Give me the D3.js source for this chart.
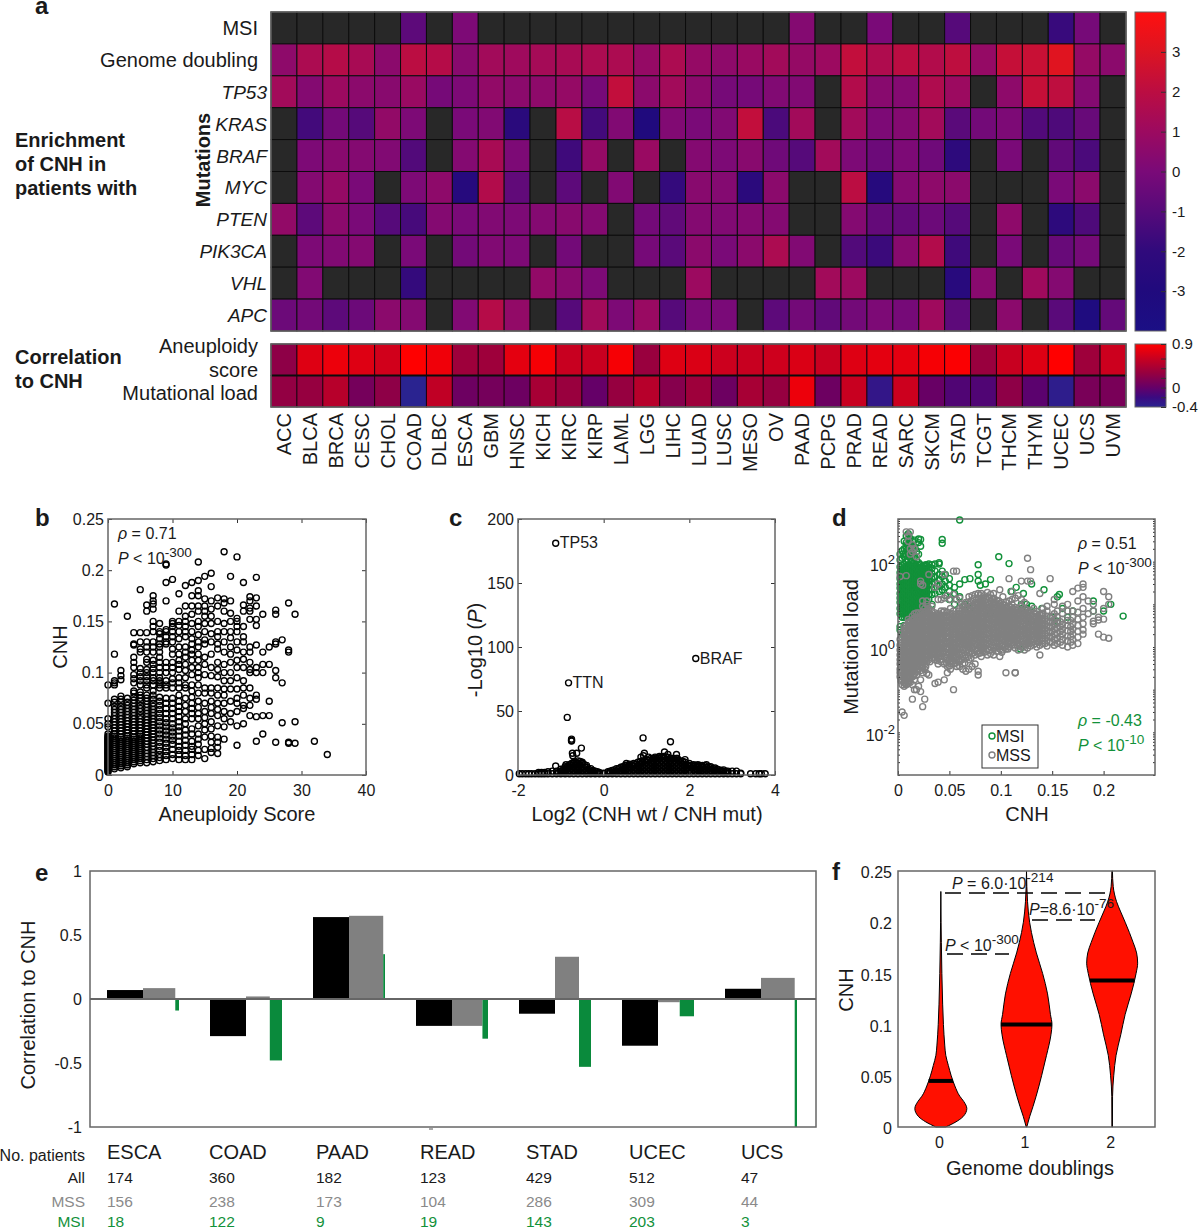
<!DOCTYPE html>
<html>
<head>
<meta charset="utf-8">
<script src="https://cdn.jsdelivr.net/npm/d3@7"></script>
<style>
  body { margin: 0; background: #fff; }
  text { font-family: "Liberation Sans", Arial, sans-serif; fill: #1a1a1a; }
</style>
</head>
<body>
<div id="chart"></div>
<script>
// ---- panel a
const cancerTypes = ["ACC","BLCA","BRCA","CESC","CHOL","COAD","DLBC","ESCA","GBM","HNSC","KICH","KIRC","KIRP","LAML","LGG","LIHC","LUAD","LUSC","MESO","OV","PAAD","PCPG","PRAD","READ","SARC","SKCM","STAD","TCGT","THCM","THYM","UCEC","UCS","UVM"];
const enrichRows = ["MSI","Genome doubling","TP53","KRAS","BRAF","MYC","PTEN","PIK3CA","VHL","APC"];
const _ = null;
const msiEnrich      = [_,_,_,_,_,-.8,_,.1,_,_,_,_,_,_,_,_,_,_,_,_,.3,_,_,0,_,_,-1,_,_,_,-1.8,-.1,_];
const doublingEnrich = [.6,1.5,1.8,1.4,.5,2,1.8,.4,1.2,1.1,1.3,1.4,1.5,1.5,.8,1.5,.8,.6,.9,1.2,.8,1,2.2,1.6,2,1.7,2.1,.8,2.3,2.4,3.1,.8,.5];
const tp53Enrich     = [1.2,.3,1,.5,.4,.9,-.1,.1,.7,.5,.6,.8,-.1,2.2,.5,1.2,.5,-.1,-.1,.2,.2,_,1.7,.4,.3,1.6,1,_,.6,2.3,2.1,.3,_];
const krasEnrich     = [_,-1.5,-.2,-1,.7,.1,_,0,.2,-2.4,_,1.9,-1.5,.2,-3,.2,0,.2,2.2,-1.3,1.2,_,1.2,.1,.3,1.2,-.9,-.2,.1,-1.1,-1.2,-.5,_];
const brafEnrich     = [_,.1,.4,.3,.2,-1.1,_,.3,1.4,.1,_,-1.6,.8,_,.9,_,.3,.1,.4,-.3,-1,1.2,.1,-.4,.1,-.3,-2.2,_,0,_,-.7,-1.3,_];
const mycEnrich      = [_,.3,.8,0,_,.1,.6,-2.6,1.7,-.7,_,-.8,_,.2,_,-1.9,.4,.3,-2.3,.5,_,_,2,-2.6,.3,.6,.5,_,_,_,0,.5,_];
const ptenEnrich     = [.7,-.8,.5,0,-1,-1.4,.3,0,.2,.1,.3,.4,.3,_,-.2,-.7,.3,.2,.3,.3,_,_,.3,-.6,-.6,-.4,-1,_,.6,_,-2.2,-1.2,_];
const pik3caEnrich   = [_,.1,.2,.3,_,0,_,-.2,.2,.1,_,-.2,_,_,-.1,-.9,.5,0,.5,1.5,.2,_,-1.1,-1.7,.4,1.7,-1.6,_,0,_,-.5,-.1,_];
const vhlEnrich      = [_,.2,_,_,_,-1.9,_,_,_,_,.7,.4,.1,_,_,_,1,_,_,_,_,1.2,1,_,_,_,-2.5,.4,_,1.1,.3,_,_];
const apcEnrich      = [-.4,-.2,-.8,-.4,.5,.3,_,.2,1.8,.7,_,-1,1.2,.1,.9,-1,0,0,_,-.8,-.2,-.7,-.2,.1,-.1,1.1,-.8,_,.5,_,-.9,-3.3,-.6];
const enrichMatrix = [msiEnrich,doublingEnrich,tp53Enrich,krasEnrich,brafEnrich,mycEnrich,ptenEnrich,pik3caEnrich,vhlEnrich,apcEnrich];
const enrichStops  = [-4,-3,-2,-1,0,1,2,3,4];
const enrichColors = ["#1b0f85","#200a7d","#300a7c","#560a7a","#7a0a78","#9c0a60","#bb0d42","#dc1422","#ff1010"];

const aneuploidyCorr = [.25,.72,.8,.72,.65,.9,.82,.35,.35,.75,.85,.6,.6,.85,.32,.72,.7,.62,.6,.63,.7,.6,.72,.75,.75,.85,.88,.32,.6,.72,.9,.35,.62];
const mutloadCorr    = [.28,.3,.5,.1,.25,-.4,.55,.05,.1,.05,.4,.32,0,.3,.5,.2,.35,.05,.4,.3,.8,.05,.6,-.3,.62,.02,-.1,-.1,.25,-.05,-.35,.12,.12];
const corrStops  = [-.4,-.2,0,.3,.6,.9];
const corrColors = ["#2a2390","#3b0a80","#650068","#960040","#c80020","#ff0000"];

// ---- panel b: CNH (x 1000) per aneuploidy score
const scoreValues = [0,1,2,3,4,5,6,7,8,9,10,11,12,13,14,15,16,17,18,19,20,21,22,23,24,25,26,27,28,29,32,34];
const scoreCnh = [
 [3,4,5,6,7,8,9,10,11,12,13,14,15,16,17,18,19,20,21,22,23,24,25,26,27,28,29,30,31,32,33,34,35,36,37,38,40,47,50,55,70,88],
 [6,8,10,12,14,16,18,20,22,24,26,28,30,32,34,36,38,40,43,46,49,52,55,58,61,64,67,71,74,88,90,92,118,167],
 [7,9,11,13,15,17,19,21,23,25,27,29,31,33,35,37,40,43,46,49,52,55,58,61,64,67,71,74,77,93,97,102],
 [8,10,12,14,16,18,20,22,24,26,28,30,32,34,36,38,41,44,47,50,53,56,59,62,65,68,71,75,155],
 [11,13,15,17,19,21,23,25,27,29,31,33,35,37,40,43,46,49,52,55,58,61,64,67,70,73,76,80,82,90,94,98,105,110,115,127,128,139],
 [12,14,16,18,20,22,24,26,28,30,32,34,36,38,40,43,46,49,52,55,58,62,65,68,72,75,78,81,88,92,96,100,104,120,123,130,139,181],
 [12,15,18,21,24,27,30,33,36,39,42,45,48,51,54,57,60,63,66,69,72,75,78,85,88,92,96,100,103,110,113,120,125,130,139,160,166],
 [13,16,19,22,25,28,31,34,37,40,43,46,49,52,55,58,61,64,67,70,74,78,82,88,92,95,100,104,108,112,120,125,130,140,145,150,162,167,170,175],
 [14,17,20,24,28,32,36,40,44,48,52,56,60,64,68,72,76,85,88,90,92,95,100,105,110,115,120,125,128,133,138,140,148],
 [15,19,23,27,31,35,39,43,47,51,55,60,65,70,75,85,88,92,100,105,110,128,130,135,140,142,170,188,205,206],
 [16,20,25,30,34,38,42,46,50,55,60,65,70,75,85,90,94,100,105,110,118,123,130,135,140,145,148,150,191],
 [15,20,24,28,33,38,43,47,52,57,62,67,72,78,85,90,95,103,108,112,118,125,133,140,146,150,160,177],
 [15,19,24,29,34,39,44,50,55,62,68,75,85,88,95,102,108,115,120,125,135,140,145,150,155,165,185],
 [15,20,25,28,33,40,45,55,60,65,70,76,82,88,98,105,112,118,122,128,133,140,148,157,165,175,188],
 [19,24,30,35,40,48,55,60,66,72,80,88,95,100,105,112,118,125,130,137,145,150,160,165,175,180,190,208],
 [16,25,37,44,50,56,62,70,80,85,98,108,115,128,132,140,148,155,160,165,172,194],
 [22,26,32,38,45,52,60,66,72,80,85,97,105,118,130,138,148,155,162,170,184,197],
 [21,27,32,37,48,58,64,70,78,85,96,103,110,123,128,135,140,150,165,173],
 [35,47,55,62,70,78,84,92,100,108,120,130,140,148,160,168,172,218],
 [52,60,72,84,92,100,110,118,125,134,140,150,158,170,194],
 [29,48,62,70,75,84,95,105,112,122,130,140,145,150,153,213],
 [50,65,68,78,85,92,105,113,120,130,135,145,160,166,188],
 [58,68,75,85,100,103,110,120,125,152,160,163,170,174],
 [33,57,74,78,100,105,127,146,152,165,173,193],
 [40,58,100,108,120,157],
 [58,72,108,125],
 [32,95,102,128,130,157,161],
 [51,90,132],
 [31,32,120,122,168],
 [31,52,157],
 [33],
 [20]
];

// ---- panel c: genes, log2 ratio against -log10 P
const foldChange = [-1.97,-1.9,-1.82,-1.75,-1.68,-1.6,-1.52,-1.45,-1.38,-1.3,-1.2,-1.1,-1,-.9,-.8,-.7,-.6,-.5,-.4,-.3,-.2,-.1,0,.1,.2,.3,.4,.5,.6,.7,.8,.9,1,1.1,1.2,1.3,1.4,1.5,1.6,1.7,1.8,1.9,2,2.1,2.2,2.3,2.4,2.5,2.6,2.7,2.8,2.9,3,3.1,3.2,3.43,3.55,3.63,3.68,3.77];
const foldP = [[1],[1],[1],[1],[1],[1],[1,2],[1,2],[1,2],[1,2.5],[1,3],[1,3],[1,3,4.5],[1,3,5,6.5],[1,3.5,6,8],[1,3.5,6,9,10],[1,3.5,6,9,11],[1,3.5,6,9,10],[1,3.5,6,7.5],[1,3,5],[1,3],[1,2],[1,1.5],[1,2.5],[1,3.5],[1,3,5],[1,3.5,6],[1,3.5,6,7.5],[1,3.5,6,8.5],[1,4,7,9],[1,4,7,10],[1,4,7,10,11],[1,4,7,10,12],[1,4,7,10,13],[1,4,7,10,14],[1,4,7,10,13,14.5],[1,4,7,10,13,14.5],[1,4,7,10,14],[1,4,7,10,13],[1,4,7,10,13],[1,4,7,11],[1,4,7,10],[1,4,7,9],[1,4,6.5,8],[1,4,6.5,8],[1,3.5,6,7.5],[1,4,6,8],[1,3.5,6.5],[1,3.5,5.5],[1,4],[1,2.5,4],[1,3],[1,3],[1,3],[1,1.5],[1],[1],[1],[1],[1]];
const foldChangeFill = [-1.05,-.95,-.85,-.75,-.65,-.55,-.45,-.35,-.25,-.15,.15,.25,.35,.45,.55,.65,.75,.85,.95,1.05,1.15,1.25,1.35,1.45,1.55,1.65,1.75,1.85,1.95,2.05,2.15,2.25,2.35,2.45,2.55,2.65,2.75,2.85];
const foldPFill = [[2],[2,4],[2,4.5,6.5],[2.5,5,7.5,9],[2.5,5,8,10],[2.5,5,8,10.5],[2.5,5,8],[2,4.5],[2,3.5],[1.5,2.5],[2,3],[2,4],[2.5,5],[2.5,5,6.5],[2.5,5,7.5],[2.5,5.5,8],[2.5,5.5,8.5],[2.5,5.5,8.5,10.5],[2.5,5.5,8.5,11],[2.5,5.5,8.5,11.5],[2.5,5.5,8.5,11.5,13],[2.5,5.5,8.5,11.5,13.5],[2.5,5.5,8.5,11.5,14],[2.5,5.5,8.5,11.5,14],[2.5,5.5,8.5,11.5,13],[2.5,5.5,8.5,11.5,13],[2.5,5.5,8.5,11.5],[2.5,5.5,8.5,10.5],[2.5,5.5,8],[2.5,5.5,7.5],[2.5,5,7.5],[2.5,5,7.5],[2.5,5,7.5],[2.5,5,6.5],[2.5,5],[2.5,4.5],[2.5,3.5],[2,3]];
const outlierFold = [-.85,-.75,-.75,-.75,-.52,-.73,-.63,-.72,-1.12,-.88,.92,.93,.87,.95,1.05,1.56,1.42,1.5,1.7,1.72,1.9,.53];
const outlierP    = [45,27,26.5,28,21,17,17,15,7,8,29,15,14,17,14,26,18,16,16,13,12,9];
const namedGenes  = ["TP53","TTN","BRAF"];
const namedFold   = [-1.12,-.82,2.15];
const namedP      = [181,72,91];

// ---- panel d: CNH (x 1000) columns with mutational load
const msiCnh = [2,4,6,8,10,12,14,16,18,20,22,24,26,28,30,33,36,40,43,46,50,55,60,65,70,78,80,85,90,98,100,108,110,115,119,120,122,125,130,140,142,150,155,157,160,165,170,190,200,207,219];
const msiLoad = [
 [2.5,3,6,8,11,14,18,24,30,40,55,75,110,150],[2,5,7,9,12,16,21,27,35,46,60,80,120,180],[2.7,3.2,5,6.5,8.5,11,14,18,23,30,38,50,65,85,130,200,300],
 [5,6.5,8,10,13,17,22,28,36,46,60,75,100,140,200,280,400],[5.5,7,9,12,15,19,24,31,40,50,65,85,110,160,230,340,450],[5,6.5,8.5,11,14,18,23,30,38,48,62,80,120,180,260,350],
 [5,6,8,10,13,17,21,27,35,45,58,75,105,150,220,300],[5,7,9,12,15,19,25,32,40,52,68,90,130,200,320],[5.5,7,9,11,14,18,23,29,37,48,60,78,110,170],
 [6,8,10,13,16,21,27,34,44,56,72,95,150,280,340],[5,6,8,11,14,18,23,29,38,50,65,85,230,330],[6,8,10,12,15,19,25,32,40,52,70],
 [8,11,14,18,23,29,38,48,62,80],[10,13,17,22,28,36,45,60,80],[13,17,22,28,35,45,58,75,88],[10,17,22,30,40,52,70,85],[18,25,33,44,60,88],[20,27,38,50,95,88],
 [22,30,45,60,330,270],[16,25,35,50],[13,20,28,40],[10,18,25],[15,30,950],[10,38],[8,40],[35,50,85],[28],[30],[38,6],[130],[5],[90],[20],[25],[.9],[10,8],[18],[8,10],[9,30,4],[8],[22],[5],[15,4],[17],[8],[5],[7],[12,7],[7],[10],[5.3]
];
const msiCnhFill = [3,5,7,9,11,13,15,17,19,21,23,25,27];
const msiLoadFill = [
 [7,9.5,12.5,16,21,27,35,47,65],[6,8,10.5,14,18,24,31,40,53,70,150],[5.7,7.5,9.5,12.5,16,20.5,26,33,43,55,72],[5.3,6.8,9,11,14,18,23,30,38,48,62,80,170,250],
 [6,8,10,13,17,21,27,35,44,57,72,135,200,300],[5.8,7.5,9.5,12.5,16,20.5,26,33,43,55,70,100,150],[6,8,11,14,17,23,28,37,48,62,80],[6,8,10,13,17,21,27,35,44,58,75],
 [6.5,8.5,12,15,19,25,31,41,52,66,85],[7,9,11.5,15,19,24,31,40,50,64],[7,9.5,12.5,16,21,26,34,44,58,75],[9,12,16,20,26,33,43,55,70],[11,15,19,25,32,40,52,68,85]
];
const mssCnh = [2,4,6,8,10,12,14,16,18,20,22,24,26,28,30,33,36,39,42,45,48,51,54,57,60,63,66,69,72,75,78,81,84,87,90,93,96,99,102,105,108,111,114,117,120,123,126,129,132,135,138,141,145,148,152,155,160,165,170,175,180,185,190,195,200,205];
const mssLoad = [
 [.2,.25,.3,.4,.5,.65,.85,1.1,1.5,45],[.13,.17,.22,.28,.36,.47,.6,.78,1,1.3,1.7,2.1,.03],[.12,.15,.19,.24,.3,.38,.48,.6,.75,.95,1.2,1.5,1.9,2.4,3,.025],
 [.13,.16,.2,.25,.32,.4,.5,.63,.8,1,1.3,1.6,2,2.5,3.2,47,500],[.14,.18,.22,.28,.35,.45,.56,.7,.9,1.1,1.4,1.8,2.2,2.8,3.5,4.4,400,300],[.15,.19,.24,.3,.38,.48,.6,.76,.95,1.2,1.5,1.9,2.4,3,3.8,500,200,150],
 [.13,.2,.26,.33,.42,.53,.67,.84,1.05,1.3,1.7,2.1,2.6,3.3,4.2,5.3,250,170,.06],[.17,.23,.3,.38,.48,.6,.76,.95,1.2,1.5,1.9,2.4,3,3.8,4.8,6,.1,200],[.1,.22,.3,.4,.5,.63,.8,1,1.3,1.6,2,2.5,3.2,4,5,6.3,130],
 [.12,.3,.4,.5,.63,.8,1,1.3,1.6,2,2.5,3.2,4,5,6.3],[.09,.17,.28,.38,.48,.6,.76,.95,1.2,1.5,1.9,2.4,3,3.8,4.8,6,30,35],[.04,.25,.33,.42,.53,.67,.84,1.05,1.3,1.7,2.1,2.6,3.3,4.2,5.3,6.6,9,12,28],
 [.06,.3,.4,.5,.63,.8,1,1.3,1.6,2,2.5,3.2,4,5,6.3,8],[.24,.45,.56,.7,.9,1.1,1.4,1.8,2.2,2.8,3.5,4.4,5.5,7,10,12],[.22,.5,.63,.8,1,1.3,1.6,2,2.5,3.2,4,5,6.3,8,50],
 [.55,.7,.9,1.1,1.4,1.8,2.2,2.8,3.5,4.4,5.5,7,9],[.14,.5,.65,.8,1,1.3,1.6,2,2.5,3.2,4,5,6.3,25],[.15,.4,.55,.75,.95,1.2,1.5,1.9,2.4,3,3.8,4.8,6,13,30],
 [.45,.6,.8,1.1,1.5,2,2.6,3.4,4.4,5.6,7,13],[.17,.4,.6,.8,1.05,1.4,1.9,2.5,3.3,4.3,5.6,7,14,50],[.25,.35,.5,.65,.9,1.2,1.6,2.1,2.8,3.7,5,6.5,16],
 [.3,.45,.6,.8,1.1,1.4,1.9,2.5,3.3,4.4,5.8,8,13],[.1,.4,.55,.75,1,1.3,1.7,2.3,3,4,5.3,7,17,60],[.35,.5,.7,.95,1.3,1.7,2.2,2.9,3.8,5,13,60],
 [.35,.45,.65,.9,1.2,1.6,2,2.7,3.5,4.6,6,8,14],[.3,.4,.6,.85,1.15,1.5,2,2.6,3.4,4.5,6,9],[.27,.55,.8,1.1,1.4,1.9,2.5,3.3,4.3,5.7,7.5,11],
 [.3,.5,.75,1,1.3,1.7,2.3,3,4,5.2,7,10,15],[.35,.7,.95,1.25,1.65,2.2,2.9,3.8,5,6.5,9,16],[.4,.65,.9,1.2,1.6,2.1,2.8,3.7,4.8,6.3,8.3,11,17],
 [.22,.27,.7,.95,1.3,1.7,2.2,2.9,3.8,5,6.5,8.5,11,14,18],[.6,.85,1.1,1.5,2,2.6,3.4,4.5,6,8,10,13,18],[.75,1,1.3,1.7,2.3,3,4,5.2,6.8,9,12,16],
 [.65,.9,1.2,1.6,2.1,2.8,3.7,4.8,6.3,8.2,11,15,19],[.7,1,1.35,1.8,2.4,3.1,4.1,5.4,7,9,12,17],[.65,.95,1.3,1.7,2.2,2.9,3.8,5,6.5,8.5,11,14,18],
 [.8,1.05,1.4,1.85,2.4,3.2,4.2,5.5,7.2,9.5,12.5],[.6,.9,1.2,1.6,2.1,2.8,3.6,4.7,6.2,8,10.5,22],[.85,1.1,1.5,2,2.6,3.4,4.4,5.8,7.6,10,15],
 [.25,.9,1.25,1.65,2.2,2.9,3.8,5,6.5,8.5,11],[1,1.35,1.8,2.3,3,4,5.2,6.8,9,12,40],[1.1,1.5,1.95,2.6,3.4,4.4,5.8,7.6,10,13,20],
 [.25,.25,.95,1.3,1.7,2.2,2.9,3.8,5,6.5,8.5,14],[.85,1.2,1.6,2.1,2.8,3.6,4.7,6.2,8,16],[1,1.35,1.8,2.3,3,4,5.2,6.8,9,13,35],
 [.85,1.2,1.6,2.1,2.7,3.6,4.7,6,8,11],[.95,1.3,1.7,2.2,2.9,3.8,5,6.5,35,120],[1.05,1.4,1.9,2.5,3.2,4.2,5.5,7.2,65,35],
 [1.15,1.5,2,2.6,3.4,4.5,6,8],[1,1.35,1.8,2.3,3,4,5.2,6.8],[.65,1.1,1.5,2,2.6,3.4,4.4,5.8,18],[1.2,1.6,2.1,2.8,3.6,4.7,6.2,8],
 [1.05,1.4,1.8,2.4,3.1,4,5.3,7,9],[1.3,1.7,2.2,2.9,3.8,5,40],[1.1,1.5,2,2.6,3.4,4.4,6,10,13],[1.2,1.6,2.1,2.8,3.6,5,7],
 [1.1,1.5,2,2.6,3.4,4.5,6,9],[1,1.4,1.8,2.4,3.2,4.2,7,10],[1.1,1.5,2,2.6,3.4,5,7,20],[1.2,1.7,2.3,3.2,4.5,6.5,12,24],
 [2,2.5,3.5,5,8,15,25,30],[6,12],[3.5,4,7,10],[4.3,5,2],[1.7,4.5,8,20],[1.6,10,15]
];
const mssCnhFill = [3,7,11,15,19,23,27,31,35,38,41,44,47,50,53,56,59,62,65,68,71,74,77,80,83,86,89,92,95,98,101,104,107,110,113,116,119,122,125,128,131,134,137,140,143,150,158,168];
const mssLoadFill = [
 [.16,.27,.34,.44,.56,.72,.95,1.25],[.14,.17,.27,.34,.43,.55,.68,.85,1.1,1.4,1.75,2.2,2.7],[.16,.2,.26,.33,.42,.52,.65,.8,1,1.25,1.6,2,2.5,3.1,3.9],[.21,.27,.34,.43,.54,.7,.85,1.1,1.35,1.7,2.1,2.7,3.4,4.3],
 [.27,.35,.45,.56,.7,.9,1.15,1.45,1.8,2.25,2.85,3.6,4.5],[.33,.43,.55,.68,.88,1.1,1.4,1.8,2.2,2.8,3.5,4.5,5.6],[.35,.5,.62,.8,1,1.25,1.6,2,2.5,3.2,4,5,6.5],[.45,.57,.72,.9,1.15,1.45,1.8,2.3,2.9,3.6,4.5,5.8],
 [.57,.72,.9,1.15,1.45,1.8,2.3,2.9,3.6,4.5,5.6],[.48,.65,.85,1.08,1.35,1.7,2.15,2.7,3.4,4.3,5.4],[.5,.7,.95,1.25,1.7,2.25,3,3.9,5],[.7,.92,1.2,1.6,2.15,2.85,3.7,5,6.5],
 [.42,.56,.75,1,1.35,1.8,2.4,3.2,4.2,5.5],[.36,.52,.7,.95,1.25,1.65,2.2,2.9,3.8,5],[.47,.65,.87,1.15,1.5,2,2.6,3.5,4.6,6],[.42,.6,.8,1.1,1.5,2,2.55,3.4,4.4,5.8],
 [.52,.75,1.05,1.4,1.8,2.35,3.1,4.1,5.3,7],[.5,.72,1,1.35,1.75,2.3,3,3.9,5.2,7,10],[.42,.65,.95,1.25,1.65,2.2,2.9,3.8,5,6.5,9],[.6,.88,1.15,1.5,2,2.65,3.5,4.6,6,8,11],
 [.55,.8,1.1,1.45,1.9,2.5,3.3,4.4,5.7,7.5,12],[.75,1.05,1.4,1.85,2.4,3.2,4.3,5.6,7.4,10,14],[.8,1.1,1.5,1.95,2.55,3.3,4.4,5.8,7.5,10],[.72,1,1.3,1.75,2.3,3,3.9,5.2,7,9,12,16],
 [.9,1.2,1.55,2,2.7,3.5,4.6,6,8,10.5,14],[.8,1.1,1.45,1.9,2.5,3.3,4.3,5.6,7.3,9.5,13],[.85,1.2,1.55,2.1,2.7,3.6,4.7,6.2,8,10,14],[.8,1.1,1.5,1.95,2.55,3.4,4.4,5.8,7.6,10,13],
 [.95,1.25,1.65,2.15,2.8,3.7,4.8,6.3,8.2,11],[1,1.35,1.8,2.35,3.1,4,5.3,7,9,12],[.75,1.05,1.4,1.8,2.35,3.1,4,5.2,6.9,9],[1,1.35,1.8,2.4,3.2,4.2,5.5,7.2,9.5],
 [.9,1.2,1.55,2,2.65,3.5,4.6,6,8],[1.25,1.7,2.2,2.9,3.8,5,6.5,8.5],[1.15,1.5,2,2.6,3.4,4.4,5.8,7.6],[1.05,1.4,1.85,2.4,3.2,4.2,5.5,7.2],
 [1.15,1.55,2,2.6,3.5,4.6,6],[1,1.35,1.85,2.4,3.1,4.1,5.4,7],[1.15,1.5,1.95,2.5,3.3,4.3,5.7,7.5],[1.2,1.6,2.1,2.8,3.7,4.8,6.3],
 [1.3,1.75,2.3,3,3.9,5.2],[1.2,1.6,2.05,2.65,3.5,4.6,6],[1.3,1.75,2.3,3,3.9,5],[1.4,1.85,2.45,3.2,4.2,5.4],[1.2,1.6,2.1,2.7,3.5,4.6],
 [1.3,1.75,2.3,3,3.9,5.3],[1.3,1.75,2.3,3,3.9],[1.3,1.75,2.3,3,4.2]
];

// ---- panel e
const barCancers = ["ESCA","COAD","PAAD","READ","STAD","UCEC","UCS"];
const corrAll = [.07,-.29,.64,-.21,-.115,-.365,.08];
const corrMss = [.085,.02,.65,-.21,.33,-.025,.165];
const corrMsi = [-.09,-.48,.35,-.31,-.53,-.135,-1];
const patientsAll = [174,360,182,123,429,512,47];
const patientsMss = [156,238,173,104,286,309,44];
const patientsMsi = [18,122,9,19,143,203,3];

// ---- panel f
const violinCnh = [
 [0,.005,.01,.018,.025,.03,.04,.05,.06,.07,.08,.1,.12,.15,.18,.2,.23],
 [0,.01,.02,.03,.05,.07,.09,.1,.11,.13,.15,.17,.19,.2,.22,.25],
 [0,.03,.05,.07,.09,.11,.13,.15,.16,.17,.18,.2,.21,.22,.235,.25]
];
const violinDensity = [
 [.19,.58,.85,1,.88,.73,.54,.4,.29,.19,.15,.1,.07,.04,.02,.01,0],
 [.01,.12,.25,.37,.58,.77,.94,.98,.92,.81,.62,.38,.19,.12,.04,0],
 [.01,.015,.06,.15,.33,.5,.73,.92,.98,.94,.81,.5,.33,.17,.04,.01]
];
const violinMedian = [.045,.1,.143];

const frameColor = "#666";
const green = "#12913a";

const svg = d3.select("#chart").append("svg")
  .attr("width", 1200).attr("height", 1231)
  .attr("viewBox", "0 0 1200 1231")
  .style("display", "block");

function label(x, y, str, opts = {}) {
  const t = svg.append("text")
    .attr("x", x).attr("y", y)
    .attr("font-size", opts.size || 20)
    .attr("text-anchor", opts.anchor || "start")
    .attr("font-weight", opts.bold ? "bold" : null)
    .attr("font-style", opts.italic ? "italic" : null)
    .text(str);
  if (opts.fill) t.style("fill", opts.fill);
  if (opts.rotate) t.attr("transform", `rotate(${opts.rotate} ${x} ${y})`);
  return t;
}

// text like "P < 10^-300" with a superscript at the end
function pText(x, y, lead, rest, sup, size, fill, supDx) {
  const t = svg.append("text").attr("x", x).attr("y", y).attr("font-size", size);
  if (fill) t.style("fill", fill);
  t.append("tspan").attr("font-style", "italic").text(lead);
  t.append("tspan").text(rest);
  t.append("tspan").attr("dy", -size * 0.45).attr("dx", supDx || 0)
    .attr("font-size", size * 0.85).text(sup);
  return t;
}

function frame(x0, x1, y0, y1) {
  svg.append("rect")
    .attr("x", x0).attr("y", y0)
    .attr("width", x1 - x0).attr("height", y1 - y0)
    .attr("fill", "none").attr("stroke", frameColor).attr("stroke-width", 1.5);
}

function styleAxis(g, size) {
  g.select(".domain").remove();
  g.selectAll("line").attr("stroke", "#333").attr("stroke-width", 1);
  g.selectAll("text").attr("font-size", size || 16).attr("font-family", null);
  g.attr("font-family", null);
}

// ticks on all four sides, labels bottom and left
function boxAxes(x, y, xTicks, yTicks) {
  const [x0, x1] = x.range(), [y1, y0] = y.range();
  const bottom = svg.append("g").attr("transform", `translate(0,${y1})`)
    .call(d3.axisBottom(x).tickValues(xTicks).tickSize(-4).tickPadding(10).tickFormat(d => d));
  styleAxis(bottom);
  const left = svg.append("g").attr("transform", `translate(${x0},0)`)
    .call(d3.axisLeft(y).tickValues(yTicks).tickSize(-4).tickPadding(4).tickFormat(d => d));
  styleAxis(left);
  const top = svg.append("g").attr("transform", `translate(0,${y0})`)
    .call(d3.axisTop(x).tickValues(xTicks).tickSize(-4).tickFormat(""));
  styleAxis(top);
  const right = svg.append("g").attr("transform", `translate(${x1},0)`)
    .call(d3.axisRight(y).tickValues(yTicks).tickSize(-4).tickFormat(""));
  styleAxis(right);
  frame(x0, x1, y0, y1);
}

function rings(data, x, y, color) {
  svg.append("g").selectAll("circle").data(data).join("circle")
    .attr("cx", d => x(d[0])).attr("cy", d => y(d[1]))
    .attr("r", 3).attr("fill", "none")
    .attr("stroke", color).attr("stroke-width", 1.4);
}

// ---------------- a: heatmaps
const colX = d3.scaleBand().domain(cancerTypes).range([271, 1126]);
const enrichY = d3.scaleBand().domain(enrichRows).range([12, 331]);
const enrichColor = d3.scaleLinear().domain(enrichStops).range(enrichColors);
const corrRowNames = ["Aneuploidy score", "Mutational load"];
const corrY = d3.scaleBand().domain(corrRowNames).range([344, 407]);
const corrColor = d3.scaleLinear().domain(corrStops).range(corrColors);

const enrichCells = enrichMatrix.flatMap((vals, r) =>
  vals.map((v, c) => ({ row: enrichRows[r], col: cancerTypes[c], v })));
svg.append("g").selectAll("rect").data(enrichCells).join("rect")
  .attr("x", d => colX(d.col)).attr("y", d => enrichY(d.row))
  .attr("width", colX.bandwidth()).attr("height", enrichY.bandwidth())
  .attr("fill", d => d.v === null ? "#282828" : enrichColor(d.v))
  .attr("stroke", "#0c0c0c").attr("stroke-width", 1);

const corrCells = [aneuploidyCorr, mutloadCorr].flatMap((vals, r) =>
  vals.map((v, c) => ({ row: corrRowNames[r], col: cancerTypes[c], v })));
svg.append("g").selectAll("rect").data(corrCells).join("rect")
  .attr("x", d => colX(d.col)).attr("y", d => corrY(d.row))
  .attr("width", colX.bandwidth()).attr("height", corrY.bandwidth())
  .attr("fill", d => corrColor(d.v))
  .attr("stroke", "#200010").attr("stroke-width", 1);
svg.append("line").attr("x1", 271).attr("x2", 1126)
  .attr("y1", corrY("Mutational load")).attr("y2", corrY("Mutational load"))
  .attr("stroke", "#0c0c0c").attr("stroke-width", 2);
frame(271, 1126, 12, 331);
frame(271, 1126, 344, 407);

svg.append("g").selectAll("text").data(cancerTypes).join("text")
  .attr("transform", d => `translate(${colX(d) + colX.bandwidth() / 2 + 7},413) rotate(-90)`)
  .attr("text-anchor", "end").attr("font-size", 20).text(d => d);

// row labels
enrichRows.forEach((name, i) => {
  const plain = i < 2;
  label(plain ? 258 : 267, enrichY(name) + enrichY.bandwidth() / 2 + 7, name,
    { anchor: "end", italic: !plain, size: plain ? 20 : 19 });
});
label(210, 160, "Mutations", { anchor: "middle", bold: true, rotate: -90 });
label(15, 147, "Enrichment", { bold: true });
label(15, 171, "of CNH in", { bold: true });
label(15, 195, "patients with", { bold: true });
label(15, 364, "Correlation", { bold: true });
label(15, 388, "to CNH", { bold: true });
label(258, 353, "Aneuploidy", { anchor: "end" });
label(258, 377, "score", { anchor: "end" });
label(258, 400, "Mutational load", { anchor: "end" });
label(35, 14, "a", { bold: true, size: 24 });

// colour bars
const defs = svg.append("defs");
function colorBar(id, stops, colors, y0, y1, tickVals, labels) {
  const lo = stops[0], hi = stops[stops.length - 1];
  const grad = defs.append("linearGradient").attr("id", id)
    .attr("x1", 0).attr("x2", 0).attr("y1", 1).attr("y2", 0);
  stops.forEach((s, i) => grad.append("stop")
    .attr("offset", (s - lo) / (hi - lo)).attr("stop-color", colors[i]));
  svg.append("rect").attr("x", 1135).attr("y", y0).attr("width", 31).attr("height", y1 - y0)
    .attr("fill", `url(#${id})`).attr("stroke", frameColor).attr("stroke-width", 1);
  const y = d3.scaleLinear().domain([lo, hi]).range([y1, y0]);
  const ax = svg.append("g").attr("transform", "translate(1166,0)")
    .call(d3.axisRight(y).tickValues(tickVals).tickSize(-5).tickPadding(6)
      .tickFormat(d => labels.includes(d) ? String(d) : ""));
  styleAxis(ax, 15);
}
colorBar("enrichGrad", enrichStops, enrichColors, 12, 331, [-3,-2,-1,0,1,2,3], [-3,-2,-1,0,1,2,3]);
colorBar("corrGrad", corrStops, corrColors, 344, 407, [.9,.6,.4,.2,0,-.2,-.4], [.9,0,-.4]);

// ---------------- b
const bX = d3.scaleLinear().domain([0, 40]).range([108, 366]);
const bY = d3.scaleLinear().domain([0, .25]).range([775, 519]);
const bPoints = scoreValues.flatMap((s, i) => scoreCnh[i].map(v => [s, v / 1000]));
rings(bPoints, bX, bY, "#000");
boxAxes(bX, bY, [0,10,20,30,40], [0,.05,.1,.15,.2,.25]);
label(237, 821, "Aneuploidy Score", { anchor: "middle" });
label(67, 647, "CNH", { anchor: "middle", rotate: -90 });
label(35, 526, "b", { bold: true, size: 24 });
const rhoB = svg.append("text").attr("x", 118).attr("y", 539).attr("font-size", 16);
rhoB.append("tspan").attr("font-style", "italic").text("ρ");
rhoB.append("tspan").text(" = 0.71");
pText(118, 564, "P", " < 10", "-300", 16);

// ---------------- c
const cX = d3.scaleLinear().domain([-2, 4]).range([518, 775]);
const cY = d3.scaleLinear().domain([0, 200]).range([775, 519]);
const cPoints = foldChange.flatMap((f, i) => foldP[i].map(p => [f, p]))
  .concat(foldChangeFill.flatMap((f, i) => foldPFill[i].map(p => [f, p])))
  .concat(outlierFold.map((f, i) => [f, outlierP[i]]))
  .concat(namedFold.map((f, i) => [f, namedP[i]]));
rings(cPoints, cX, cY, "#000");
boxAxes(cX, cY, [-2,0,2,4], [0,50,100,150,200]);
namedGenes.forEach((g, i) => label(cX(namedFold[i]) + 4, cY(namedP[i]) + 5, g, { size: 16 }));
label(647, 821, "Log2 (CNH wt / CNH mut)", { anchor: "middle" });
const cTitle = label(482, 650, "", { anchor: "middle", rotate: -90 });
cTitle.append("tspan").text("-Log10 (");
cTitle.append("tspan").attr("font-style", "italic").text("P");
cTitle.append("tspan").text(")");
label(449, 526, "c", { bold: true, size: 24 });

// ---------------- d
const dX = d3.scaleLinear().domain([0, .25]).range([898, 1155]);
const dY = d3.scaleLog().domain([1e-3, 1e3]).range([775, 519]);
const dMsi = msiCnh.flatMap((c, i) => msiLoad[i].map(l => [c / 1000, l]))
  .concat(msiCnhFill.flatMap((c, i) => msiLoadFill[i].map(l => [c / 1000, l])));
const dMss = mssCnh.flatMap((c, i) => mssLoad[i].map(l => [c / 1000, l]))
  .concat(mssCnhFill.flatMap((c, i) => mssLoadFill[i].map(l => [c / 1000, l])));
rings(dMsi, dX, dY, green);
rings(dMss, dX, dY, "#808080");
const logTicks = d3.range(-3, 3).flatMap(k => d3.range(1, 10).map(m => m * Math.pow(10, k))).concat([1000]);
const dBottom = svg.append("g").attr("transform", "translate(0,775)")
  .call(d3.axisBottom(dX).tickValues([0,.05,.1,.15,.2]).tickSize(-4).tickPadding(10).tickFormat(d => d));
styleAxis(dBottom);
const dLeft = svg.append("g").attr("transform", "translate(898,0)")
  .call(d3.axisLeft(dY).tickValues(logTicks).tickSize(-2).tickFormat(""));
styleAxis(dLeft);
const dRight = svg.append("g").attr("transform", "translate(1155,0)")
  .call(d3.axisRight(dY).tickValues(logTicks).tickSize(-2).tickFormat(""));
styleAxis(dRight);
frame(898, 1155, 519, 775);
[[100, "2"], [1, "0"], [.01, "-2"]].forEach(([v, e]) => {
  const t = svg.append("text").attr("x", 895).attr("y", dY(v) + 9)
    .attr("text-anchor", "end").attr("font-size", 16);
  t.append("tspan").text("10");
  t.append("tspan").attr("dy", -7).attr("font-size", 13).text(e);
});
label(1027, 821, "CNH", { anchor: "middle" });
label(858, 647, "Mutational load", { anchor: "middle", rotate: -90 });
label(832, 526, "d", { bold: true, size: 24 });
const rhoD = svg.append("text").attr("x", 1078).attr("y", 549).attr("font-size", 16);
rhoD.append("tspan").attr("font-style", "italic").text("ρ");
rhoD.append("tspan").text(" = 0.51");
pText(1078, 574, "P", " < 10", "-300", 16);
const rhoMsi = svg.append("text").attr("x", 1078).attr("y", 726).attr("font-size", 16).style("fill", green);
rhoMsi.append("tspan").attr("font-style", "italic").text("ρ");
rhoMsi.append("tspan").text(" = -0.43");
pText(1078, 751, "P", " < 10", "-10", 16, green);
// legend
svg.append("rect").attr("x", 982).attr("y", 725).attr("width", 56).attr("height", 43)
  .attr("fill", "#fff").attr("stroke", "#333").attr("stroke-width", 1);
svg.append("circle").attr("cx", 992).attr("cy", 736).attr("r", 3)
  .attr("fill", "none").attr("stroke", green).attr("stroke-width", 1.4);
svg.append("circle").attr("cx", 992).attr("cy", 755).attr("r", 3)
  .attr("fill", "none").attr("stroke", "#808080").attr("stroke-width", 1.4);
label(996, 742, "MSI", { size: 16 });
label(996, 761, "MSS", { size: 16 });

// ---------------- e
const eGroup = d3.scaleBand().domain(barCancers).range([107, 828]);
const eY = d3.scaleLinear().domain([-1, 1]).range([1127, 871]);
const eWidth = d3.scaleLinear().domain([0, 1]).range([0, 36]);
const eBars = barCancers.flatMap((name, i) => {
  const x0 = eGroup(name);
  const xMid = x0 + eWidth(1);
  const mssW = eWidth(patientsMss[i] / patientsAll[i]);
  const msiW = eWidth(patientsMsi[i] / patientsAll[i]);
  return [
    { x: x0, w: eWidth(1), v: corrAll[i], color: "#000" },
    { x: xMid, w: mssW, v: corrMss[i], color: "#808080" },
    { x: xMid + mssW, w: Math.max(msiW, 1.6), v: corrMsi[i], color: "#0a8a3c" }
  ];
});
svg.append("g").selectAll("rect").data(eBars).join("rect")
  .attr("x", d => d.x).attr("width", d => d.w)
  .attr("y", d => eY(Math.max(d.v, 0)))
  .attr("height", d => Math.abs(eY(d.v) - eY(0)))
  .attr("fill", d => d.color);
svg.append("line").attr("x1", 90).attr("x2", 816).attr("y1", eY(0)).attr("y2", eY(0))
  .attr("stroke", frameColor).attr("stroke-width", 2);
const eLeft = svg.append("g").attr("transform", "translate(90,0)")
  .call(d3.axisLeft(eY).tickValues([-1,-.5,0,.5,1]).tickSize(0).tickPadding(8).tickFormat(d => d));
styleAxis(eLeft);
frame(90, 816, 871, 1127);
svg.append("line").attr("x1", 429).attr("x2", 433).attr("y1", 1129).attr("y2", 1129)
  .attr("stroke", "#555").attr("stroke-width", 1);
label(35, 1005, "Correlation to CNH", { anchor: "middle", rotate: -90 });
label(35, 881, "e", { bold: true, size: 24 });

// table below the bars, its columns were placed by hand in the original
const tableColumnX = [107, 209, 316, 420, 526, 629, 741];
label(85, 1161, "No. patients", { anchor: "end", size: 16 });
label(85, 1183, "All", { anchor: "end", size: 15.5 });
label(85, 1207, "MSS", { anchor: "end", size: 15.5, fill: "#8a8a8a" });
label(85, 1227, "MSI", { anchor: "end", size: 15.5, fill: green });
barCancers.forEach((name, i) => {
  const x = tableColumnX[i];
  label(x, 1159, name, { size: 20 });
  label(x, 1183, patientsAll[i], { size: 15.5 });
  label(x, 1207, patientsMss[i], { size: 15.5, fill: "#8a8a8a" });
  label(x, 1227, patientsMsi[i], { size: 15.5, fill: green });
});

// ---------------- f
const fX = d3.scaleLinear().domain([-.5, 2.5]).range([898, 1155]);
const fY = d3.scaleLinear().domain([0, .25]).range([1127, 871]);
const fW = d3.scaleLinear().domain([0, 1]).range([0, 26]);
violinCnh.forEach((grid, k) => {
  const rows = grid.map((c, i) => ({ c, w: fW(violinDensity[k][i]) }));
  const area = d3.area()
    .y(d => fY(d.c))
    .x0(d => fX(k) - d.w).x1(d => fX(k) + d.w)
    .curve(d3.curveMonotoneY);
  svg.append("path").attr("d", area(rows))
    .attr("fill", "#ff1000").attr("stroke", "#000").attr("stroke-width", 1);
  const mid = fW(d3.scaleLinear().domain(grid).range(violinDensity[k])(violinMedian[k]));
  svg.append("line")
    .attr("x1", fX(k) - mid).attr("x2", fX(k) + mid)
    .attr("y1", fY(violinMedian[k])).attr("y2", fY(violinMedian[k]))
    .attr("stroke", "#000").attr("stroke-width", 4);
});
const fBottom = svg.append("g").attr("transform", "translate(-2,1127)")
  .call(d3.axisBottom(fX).tickValues([0,1,2]).tickSize(0).tickPadding(10).tickFormat(d => d));
styleAxis(fBottom);
const fLeft = svg.append("g").attr("transform", "translate(898,1.5)")
  .call(d3.axisLeft(fY).tickValues([0,.05,.1,.15,.2,.25]).tickSize(0).tickPadding(6).tickFormat(d => d));
styleAxis(fLeft);
frame(898, 1155, 871, 1127);
label(1030, 1175, "Genome doublings", { anchor: "middle" });
label(853, 990, "CNH", { anchor: "middle", rotate: -90 });
label(832, 880, "f", { bold: true, size: 24 });

function dashes(x0, x1, y) {
  svg.append("line").attr("x1", x0).attr("x2", x1).attr("y1", y).attr("y2", y)
    .attr("stroke", "#000").attr("stroke-width", 1.3).attr("stroke-dasharray", "16 8");
}
dashes(945, 1107, 893);
dashes(1032, 1095, 920);
dashes(947, 1009, 954);
pText(952, 889, "P", " = 6.0·10", "-214", 16);
pText(1029, 915, "P", "=8.6·10", "-76", 16);
pText(945, 951, "P", " < 10", "-300", 16);
</script>
</body>
</html>
